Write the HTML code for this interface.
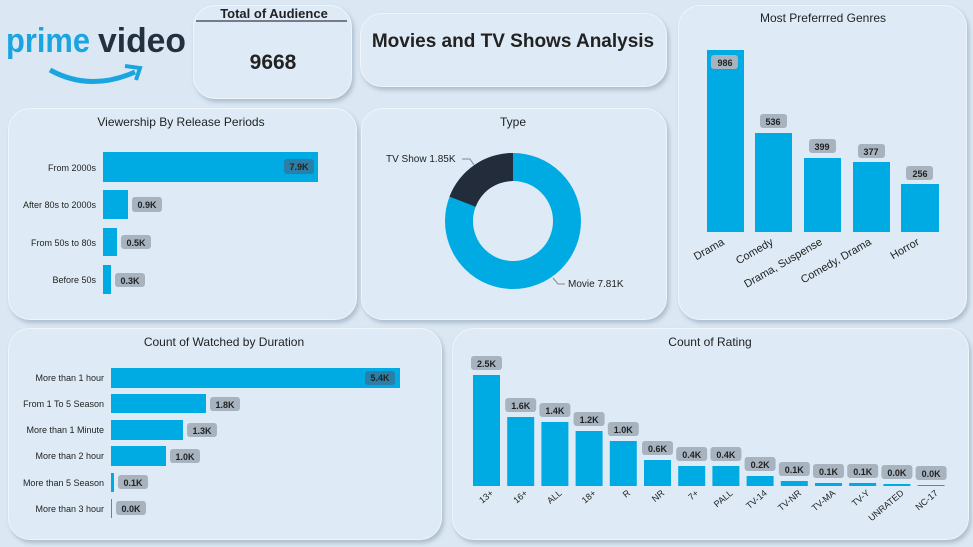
<!DOCTYPE html><html><head><meta charset="utf-8"><style>
body{margin:0;width:973px;height:547px;background:#dbe8f4;font-family:"Liberation Sans",sans-serif;position:relative;overflow:hidden}
.p{position:absolute;background:#deebf6;border:1px solid #eef5fb;border-radius:22px;box-shadow:2px 3px 4px rgba(90,110,130,.35)}
svg{position:absolute;left:0;top:0}
</style></head><body>
<div class="p" style="left:193px;top:5px;width:157px;height:92px"></div>
<div class="p" style="left:360px;top:13px;width:305px;height:72px"></div>
<div class="p" style="left:678px;top:5px;width:287px;height:313px"></div>
<div class="p" style="left:8px;top:108px;width:347px;height:210px"></div>
<div class="p" style="left:361px;top:108px;width:304px;height:210px"></div>
<div class="p" style="left:8px;top:328px;width:432px;height:210px"></div>
<div class="p" style="left:452px;top:328px;width:515px;height:210px"></div>
<svg width="973" height="547" font-family="Liberation Sans, sans-serif">
<text x="6" y="52" font-size="34" fill="#1aa5e0" font-weight="bold" textLength="84" lengthAdjust="spacingAndGlyphs">prime</text>
<text x="98" y="52" font-size="34" fill="#23303f" font-weight="bold" textLength="88" lengthAdjust="spacingAndGlyphs">video</text>
<path d="M50 70 Q90 92 135 72" stroke="#1aa5e0" stroke-width="5" fill="none"/>
<path d="M125 66 L140 68 L136 80" stroke="#1aa5e0" stroke-width="4" fill="none"/>
<text x="274" y="18" font-size="13" font-weight="bold" text-anchor="middle" fill="#222">Total of Audience</text>
<line x1="196" y1="21" x2="347" y2="21" stroke="#556" stroke-width="1.5"/>
<text x="273" y="69" font-size="21" font-weight="bold" text-anchor="middle" fill="#222">9668</text>
<text x="513" y="47" font-size="19" font-weight="bold" text-anchor="middle" fill="#222">Movies and TV Shows Analysis</text>
<g font-size="12" fill="#222" text-anchor="middle"><text x="181" y="126">Viewership By Release Periods</text><text x="513" y="126">Type</text><text x="823" y="22">Most Preferrred Genres</text><text x="224" y="346">Count of Watched by Duration</text><text x="710" y="346">Count of Rating</text></g>
<g fill="#00abe3">
<rect x="103" y="152" width="215" height="30"/><rect x="103" y="190" width="25" height="29"/><rect x="103" y="228" width="14" height="28"/><rect x="103" y="265" width="8" height="29"/>
<rect x="707" y="50" width="37" height="182"/><rect x="755" y="133" width="37" height="99"/><rect x="804" y="158" width="37" height="74"/><rect x="853" y="162" width="37" height="70"/><rect x="901" y="184" width="38" height="48"/>
<rect x="111" y="368" width="289" height="20"/><rect x="111" y="394" width="95" height="19"/><rect x="111" y="420" width="72" height="20"/><rect x="111" y="446" width="55" height="20"/><rect x="111" y="473" width="3" height="19"/><rect x="111" y="499" width="1" height="19"/>
</g>
<g font-size="9" fill="#222" text-anchor="end"><text x="96" y="171">From 2000s</text><text x="96" y="208">After 80s to 2000s</text><text x="96" y="246">From 50s to 80s</text><text x="96" y="283">Before 50s</text>
<text x="104" y="381">More than 1 hour</text><text x="104" y="407">From 1 To 5 Season</text><text x="104" y="433">More than 1 Minute</text><text x="104" y="459">More than 2 hour</text><text x="104" y="486">More than 5 Season</text><text x="104" y="512">More than 3 hour</text></g>
<g font-size="9" font-weight="bold" fill="#222" text-anchor="middle">
<rect x="284" y="159" width="30" height="15" rx="3" fill="#2a7fa8"/><text x="299" y="170">7.9K</text>
<rect x="132" y="197" width="30" height="15" rx="3" fill="#a7b4c0"/><text x="147" y="208">0.9K</text>
<rect x="121" y="235" width="30" height="14" rx="3" fill="#a7b4c0"/><text x="136" y="246">0.5K</text>
<rect x="115" y="273" width="30" height="14" rx="3" fill="#a7b4c0"/><text x="130" y="284">0.3K</text>
<rect x="365" y="371" width="30" height="14" rx="3" fill="#2a7fa8"/><text x="380" y="381">5.4K</text>
<rect x="210" y="397" width="30" height="14" rx="3" fill="#a7b4c0"/><text x="225" y="408">1.8K</text>
<rect x="187" y="423" width="30" height="14" rx="3" fill="#a7b4c0"/><text x="202" y="434">1.3K</text>
<rect x="170" y="449" width="30" height="14" rx="3" fill="#a7b4c0"/><text x="185" y="460">1.0K</text>
<rect x="118" y="475" width="30" height="14" rx="3" fill="#a7b4c0"/><text x="133" y="486">0.1K</text>
<rect x="116" y="501" width="30" height="14" rx="3" fill="#a7b4c0"/><text x="131" y="512">0.0K</text>
<rect x="711" y="55" width="27" height="14" rx="3" fill="#a7b4c0"/><text x="725" y="66">986</text>
<rect x="760" y="114" width="27" height="14" rx="3" fill="#a7b4c0"/><text x="773" y="125">536</text>
<rect x="809" y="139" width="27" height="14" rx="3" fill="#a7b4c0"/><text x="822" y="150">399</text>
<rect x="858" y="144" width="27" height="14" rx="3" fill="#a7b4c0"/><text x="871" y="155">377</text>
<rect x="906" y="166" width="27" height="14" rx="3" fill="#a7b4c0"/><text x="920" y="177">256</text>
</g>
<g font-size="11" fill="#222" text-anchor="end">
<text transform="translate(725,244) rotate(-30)">Drama</text><text transform="translate(774,244) rotate(-30)">Comedy</text><text transform="translate(823,244) rotate(-30)">Drama, Suspense</text><text transform="translate(872,244) rotate(-30)">Comedy, Drama</text><text transform="translate(920,244) rotate(-30)">Horror</text></g>
<circle cx="513" cy="221" r="54" fill="none" stroke="#00abe3" stroke-width="28"/>
<path d="M513 153 A68 68 0 0 0 449.5 196.6 L475.7 206.7 A40 40 0 0 1 513 181 Z" fill="#222c3a"/>
<g font-size="10" fill="#222"><text x="386" y="162">TV Show 1.85K</text><text x="568" y="287">Movie 7.81K</text></g>
<path d="M462 159 L470 159 L474 165" stroke="#888" fill="none"/><path d="M553 278 L558 284 L565 284" stroke="#888" fill="none"/>
<g id="r"></g>
</svg>
<script>
var v=[["13+",375,"2.5K"],["16+",417,"1.6K"],["ALL",422,"1.4K"],["18+",431,"1.2K"],["R",441,"1.0K"],["NR",460,"0.6K"],["7+",466,"0.4K"],["PALL",466,"0.4K"],["TV-14",476,"0.2K"],["TV-NR",481,"0.1K"],["TV-MA",483,"0.1K"],["TV-Y",483,"0.1K"],["UNRATED",484,"0.0K"],["NC-17",485,"0.0K"]];
var s="";v.forEach(function(d,i){var x=473+i*34.2;s+='<rect x="'+x+'" y="'+d[1]+'" width="27" height="'+(486-d[1])+'" fill="#00abe3"/>';
s+='<rect x="'+(x-2)+'" y="'+(d[1]-19)+'" width="31" height="14" rx="3" fill="#a7b4c0"/><text x="'+(x+13.5)+'" y="'+(d[1]-8)+'" font-size="9" font-weight="bold" text-anchor="middle" fill="#222">'+d[2]+'</text>';
s+='<text transform="translate('+(x+21)+',494) rotate(-40)" font-size="9" text-anchor="end" fill="#222">'+d[0]+'</text>';});
document.getElementById("r").innerHTML=s;
</script>
</body></html>
